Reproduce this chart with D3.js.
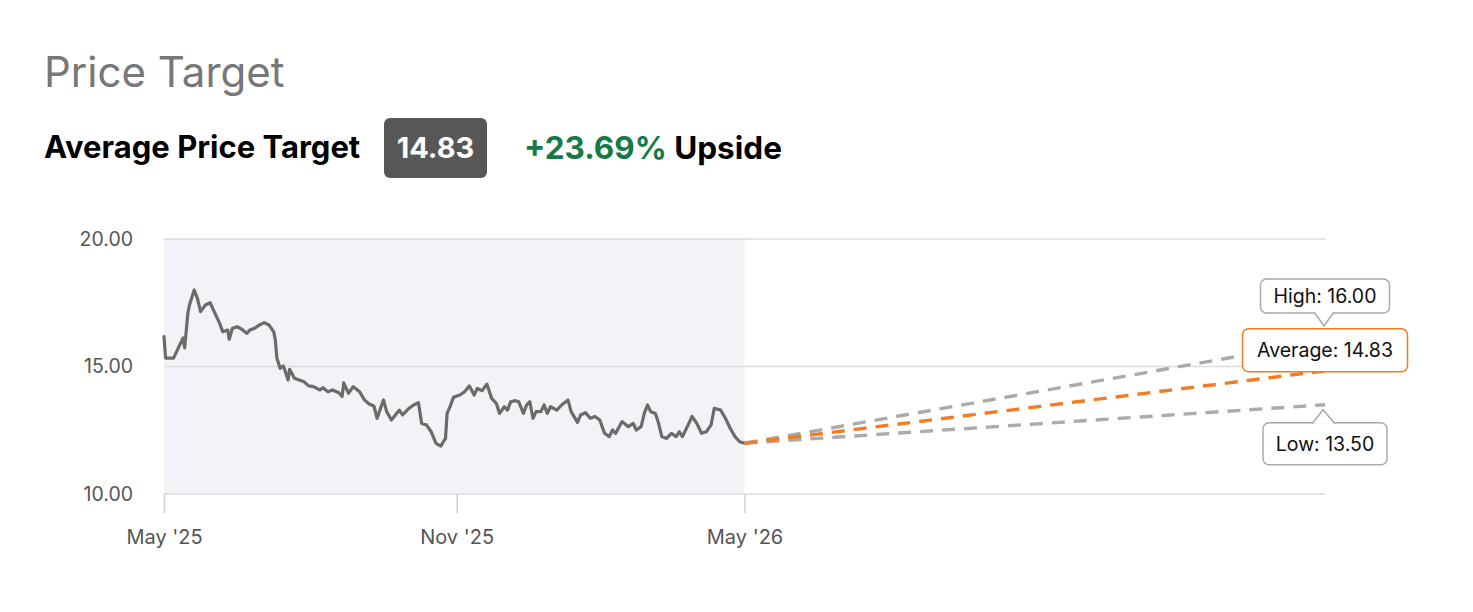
<!DOCTYPE html>
<html>
<head>
<meta charset="utf-8">
<script src="https://cdn.jsdelivr.net/npm/d3@7"></script>
<style>
  body { margin: 0; background: #fff; }
  svg { display: block; font-family: Inter, "Noto Sans", sans-serif; }
</style>
</head>
<body>
<svg id="svg" width="1473" height="612"></svg>
<script>
// closing prices
const priceDates = [
  "2025-05-01","2025-05-02","2025-05-07","2025-05-13","2025-05-14","2025-05-16","2025-05-17","2025-05-20",
  "2025-05-22","2025-05-24","2025-05-27","2025-05-30","2025-06-02","2025-06-05","2025-06-07","2025-06-10",
  "2025-06-11","2025-06-13","2025-06-16","2025-06-19","2025-06-22","2025-06-24","2025-06-27","2025-06-30",
  "2025-07-03","2025-07-06","2025-07-09","2025-07-10","2025-07-11","2025-07-13","2025-07-15","2025-07-16",
  "2025-07-18","2025-07-19","2025-07-22","2025-07-25","2025-07-28","2025-07-31","2025-08-03","2025-08-07",
  "2025-08-09","2025-08-12","2025-08-15","2025-08-19","2025-08-21","2025-08-22","2025-08-25","2025-08-28",
  "2025-09-01","2025-09-04","2025-09-07","2025-09-10","2025-09-12","2025-09-16","2025-09-18","2025-09-21",
  "2025-09-26","2025-09-28","2025-10-02","2025-10-05","2025-10-08","2025-10-10","2025-10-13","2025-10-16",
  "2025-10-19","2025-10-22","2025-10-25","2025-10-26","2025-10-28","2025-10-30","2025-11-03","2025-11-06",
  "2025-11-09","2025-11-12","2025-11-14","2025-11-17","2025-11-20","2025-11-23","2025-11-26","2025-11-28",
  "2025-12-01","2025-12-03","2025-12-05","2025-12-08","2025-12-10","2025-12-13","2025-12-15","2025-12-17",
  "2025-12-19","2025-12-21","2025-12-24","2025-12-26","2025-12-28","2025-12-30","2026-01-03","2026-01-06",
  "2026-01-10","2026-01-12","2026-01-16","2026-01-18","2026-01-21","2026-01-24","2026-01-27","2026-01-30",
  "2026-02-02","2026-02-05","2026-02-07","2026-02-09","2026-02-13","2026-02-17","2026-02-20","2026-02-22",
  "2026-02-25","2026-02-27","2026-03-01","2026-03-03","2026-03-06","2026-03-08","2026-03-10","2026-03-13",
  "2026-03-16","2026-03-19","2026-03-21","2026-03-23","2026-03-27","2026-03-29","2026-04-01","2026-04-04",
  "2026-04-07","2026-04-10","2026-04-12","2026-04-16","2026-04-19","2026-04-22","2026-04-25","2026-04-28",
  "2026-05-01"
];
const priceValues = [
  16.17,15.33,15.33,16.12,15.73,17.09,17.41,18.00,
  17.67,17.15,17.41,17.50,17.09,16.69,16.36,16.43,
  16.07,16.50,16.56,16.46,16.30,16.43,16.50,16.63,
  16.72,16.63,16.36,16.04,15.32,14.93,15.02,14.86,
  14.47,14.89,14.54,14.47,14.40,14.24,14.21,14.08,
  14.17,14.01,14.08,13.97,13.82,14.36,13.95,14.21,
  14.01,13.69,13.53,13.45,12.97,13.69,13.23,12.90,
  13.29,13.10,13.36,13.49,13.58,12.77,12.71,12.44,
  11.99,11.88,12.18,13.16,13.45,13.79,13.88,14.01,
  14.24,13.88,14.14,14.05,14.31,13.75,13.55,13.16,
  13.42,13.29,13.62,13.66,13.62,13.16,13.49,13.62,
  12.97,13.23,13.23,13.49,13.16,13.42,13.29,13.49,
  13.69,13.23,12.81,13.10,13.19,12.97,13.04,12.90,
  12.38,12.25,12.51,12.38,12.84,12.64,12.77,12.51,
  12.64,13.16,13.49,13.23,13.16,12.77,12.25,12.18,
  12.38,12.25,12.44,12.25,12.77,13.04,12.77,12.38,
  12.44,12.71,13.36,13.29,12.97,12.58,12.25,12.05,
  11.99
];

// analyst targets
const targetNames = ["High", "Average", "Low"];
const targetValues = [16.00, 14.83, 13.50];
const targetDate = "2027-05-01";

const yTicks = [10, 15, 20];
const xTickDates = ["2025-05-01", "2025-11-01", "2026-05-01"];
const xTickLabels = ["May '25", "Nov '25", "May '26"];

const parse = d3.timeParse("%Y-%m-%d");
const prices = priceDates.map((d, i) => ({ date: parse(d), value: priceValues[i] }));
const last = prices[prices.length - 1];

const svg = d3.select("#svg");
const margin = { top: 239, right: 148, bottom: 118, left: 164 };
const W = +svg.attr("width"), H = +svg.attr("height");

const x = d3.scaleTime()
  .domain([parse("2025-05-01"), parse(targetDate)])
  .range([margin.left, W - margin.right]);
const y = d3.scaleLinear()
  .domain([10, 20])
  .range([H - margin.bottom, margin.top]);

// header
svg.append("text")
  .attr("x", 44).attr("y", 87)
  .attr("font-size", 42).attr("fill", "#777")
  .text("Price Target");

svg.append("text")
  .attr("x", 44).attr("y", 158)
  .attr("font-size", 31).attr("font-weight", 700).attr("fill", "#000")
  .text("Average Price Target");

const avg = targetValues[1];
svg.append("rect")
  .attr("x", 384).attr("y", 118).attr("width", 103).attr("height", 60)
  .attr("rx", 6).attr("fill", "#575757");
svg.append("text")
  .attr("x", 435.5).attr("y", 158).attr("text-anchor", "middle")
  .attr("font-size", 29).attr("font-weight", 700).attr("fill", "#fff")
  .text(avg.toFixed(2));

const upside = (avg / last.value - 1) * 100;
const up = svg.append("text")
  .attr("x", 524).attr("y", 159)
  .attr("font-size", 31.5).attr("font-weight", 700);
up.append("tspan").attr("fill", "#137a48").text("+" + upside.toFixed(2) + "%");
up.append("tspan").attr("fill", "#000").text(" Upside");

// history background
svg.append("rect")
  .attr("x", x(parse(xTickDates[0]))).attr("y", y(20))
  .attr("width", x(last.date) - x(parse(xTickDates[0])))
  .attr("height", y(10) - y(20))
  .attr("fill", "#f2f3f6");

// grid
svg.append("g")
  .selectAll("line")
  .data(yTicks)
  .enter()
  .append("line")
  .attr("x1", x.range()[0]).attr("x2", x.range()[1])
  .attr("y1", d => y(d)).attr("y2", d => y(d))
  .attr("stroke", "#dcdcdc").attr("stroke-width", 1.5);

const yAxis = g => g
  .attr("transform", `translate(${margin.left},0)`)
  .call(d3.axisLeft(y).tickValues(yTicks).tickFormat(d3.format(".2f")).tickSize(0).tickPadding(31))
  .call(g => g.select(".domain").remove());
svg.append("g").call(yAxis)
  .selectAll("text")
  .attr("font-family", "Inter, sans-serif")
  .attr("font-size", 19.5).attr("fill", "#555");

const xAxis = g => g
  .attr("transform", `translate(0,${y(10)})`)
  .call(d3.axisBottom(x).tickValues(xTickDates.map(parse))
    .tickFormat((d, i) => xTickLabels[i]).tickSize(19).tickPadding(17))
  .call(g => g.select(".domain").remove());
const xg = svg.append("g").call(xAxis);
xg.selectAll("line").attr("stroke", "#cfcfcf").attr("stroke-width", 1.5);
xg.selectAll("text")
  .attr("font-family", "Inter, sans-serif")
  .attr("font-size", 20).attr("fill", "#555");

// price line
const line = d3.line()
  .x(d => x(d.date))
  .y(d => y(d.value));

svg.append("path")
  .datum(prices)
  .attr("fill", "none")
  .attr("stroke", "#6b6b6b")
  .attr("stroke-width", 3.2)
  .attr("stroke-linejoin", "round")
  .attr("stroke-linecap", "round")
  .attr("d", line);

// target projections, average drawn last so it sits on top
const order = [0, 2, 1];
order.forEach(i => {
  const pts = [last, { date: parse(targetDate), value: targetValues[i] }];
  svg.append("path")
    .datum(pts)
    .attr("fill", "none")
    .attr("stroke", i === 1 ? "#f47b20" : "#ababab")
    .attr("stroke-width", 3.4)
    .attr("stroke-dasharray", "13,9")
    .attr("d", line);
});

// labels at the end
const ex = x(parse(targetDate));
const boxFont = 19.5;

function callout(cx, top, h, w, txt, stroke, pointer) {
  const g = svg.append("g");
  const left = cx - w / 2;
  if (pointer === "down") {
    g.append("path")
      .attr("d", `M${cx - 11},${top + h - 1} L${cx - 1},${top + h + 13} L${cx + 9},${top + h - 1}`)
      .attr("fill", "#fff").attr("stroke", stroke).attr("stroke-width", 1.5);
  }
  if (pointer === "up") {
    g.append("path")
      .attr("d", `M${cx - 13},${top + 1} L${cx - 2},${top - 13} L${cx + 10},${top + 1}`)
      .attr("fill", "#fff").attr("stroke", stroke).attr("stroke-width", 1.5);
  }
  g.insert("rect", ":first-child")
    .attr("x", left).attr("y", top).attr("width", w).attr("height", h)
    .attr("rx", 6).attr("fill", "#fff").attr("stroke", stroke).attr("stroke-width", 1.5);
  // cover the pointer joint
  if (pointer === "down") {
    g.append("rect").attr("x", cx - 10).attr("y", top + h - 3).attr("width", 18).attr("height", 2.2).attr("fill", "#fff");
  }
  if (pointer === "up") {
    g.append("rect").attr("x", cx - 12).attr("y", top + 0.8).attr("width", 21).attr("height", 2.2).attr("fill", "#fff");
  }
  g.append("text")
    .attr("x", cx).attr("y", top + h / 2).attr("dy", "0.36em")
    .attr("text-anchor", "middle")
    .attr("font-size", boxFont).attr("fill", "#111")
    .text(txt);
}

callout(ex, y(targetValues[0]) - 62, 34, 129,
  targetNames[0] + ": " + targetValues[0].toFixed(2), "#aaaaaa", "down");
callout(ex, y(targetValues[2]) + 18, 42, 124,
  targetNames[2] + ": " + targetValues[2].toFixed(2), "#aaaaaa", "up");
callout(ex, y(targetValues[1]) - 42, 43, 165,
  targetNames[1] + ": " + targetValues[1].toFixed(2), "#f47b20", null);
</script>
</body>
</html>
